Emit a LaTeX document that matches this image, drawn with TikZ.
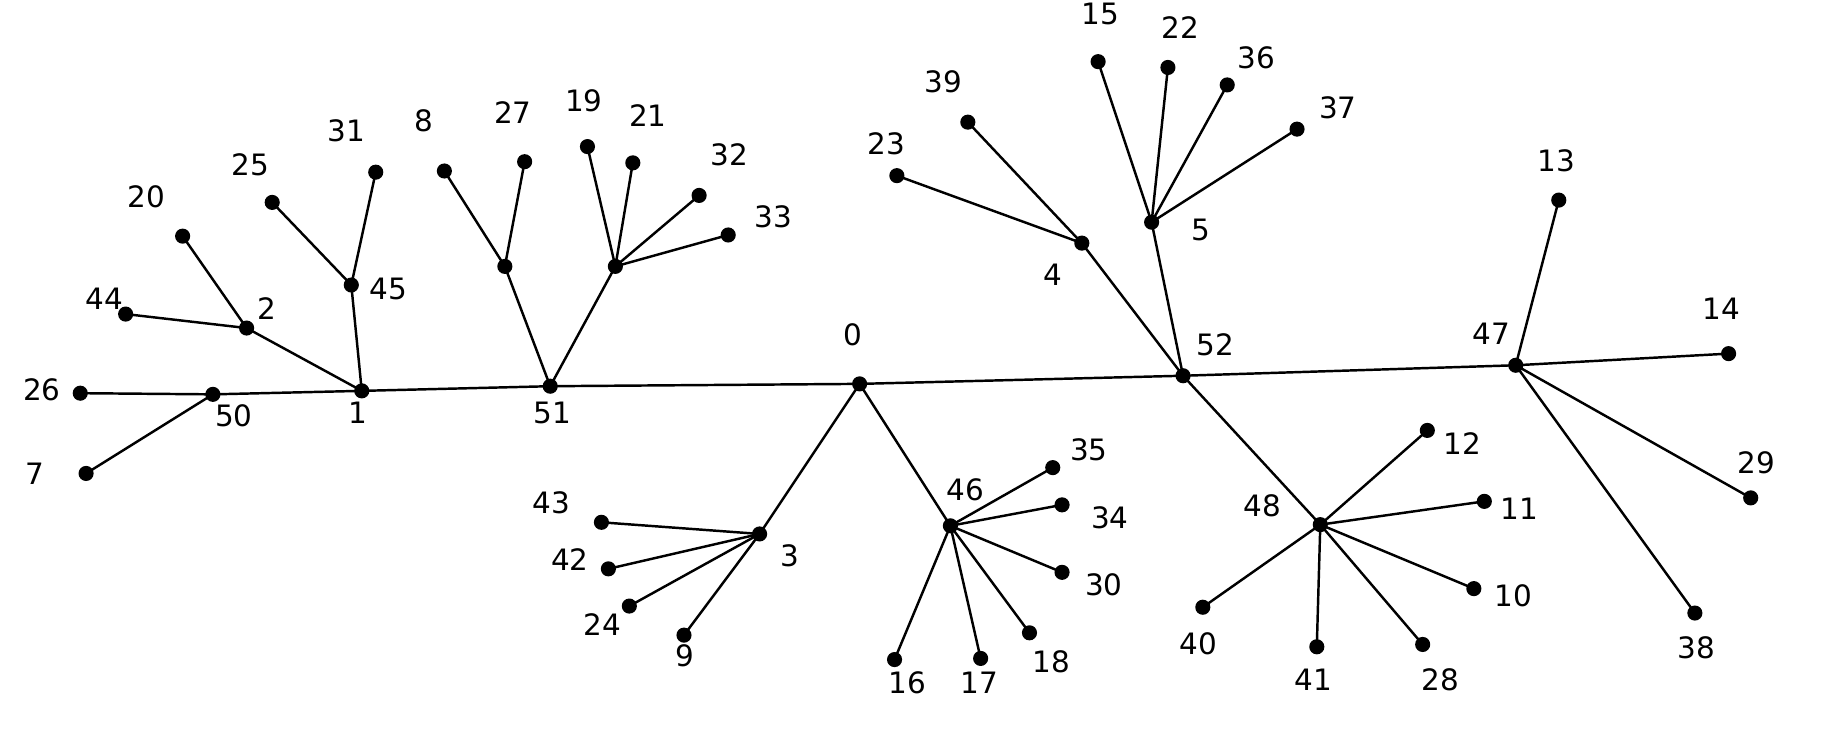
\documentclass[tikz,border=0pt]{standalone}
\usepackage{fontspec}
\setmainfont{DejaVu Sans}
\begin{document}
\begin{tikzpicture}[x=0.01cm,y=-0.01cm,
  dot/.style={circle,fill=black,inner sep=0pt,minimum size=0.13cm},
  lbl/.style={font=\fontsize{7.2}{8}\selectfont,inner sep=0pt},
  edge/.style={line width=0.6pt}]
\useasboundingbox (0,0) rectangle (1568,639);
\foreach \n/\x/\y/\lx/\ly in {
0/739/330/733/288, 1/311/336/308/355, 50/183/339/201/357, 26/69/338/36/335, 7/74/407/30/407,
2/212/282/229/265, 20/157/203/126/169, 44/108/270/90/257, 45/302/245/334/248, 25/234/174/215/142,
31/323/148/298/112, 51/473/332/475/355, 8/382/147/364/104, 27/451/139/441/97,
19/505/126/502/87, 21/544/140/557/99, 32/601/168/627/133, 33/626/202/665/186,
52/1017/323/1045/296, 4/930/209/905/236, 23/771/151/762/124, 39/832/105/811/70,
5/990/191/1032/198, 15/944/53/946/12, 22/1004/58/1015/24, 36/1055/73/1080/50, 37/1115/111/1150/93,
47/1303/314/1282/287, 13/1340/172/1338/138, 14/1486/304/1480/265, 29/1505/428/1510/398, 38/1457/527/1458/557,
48/1135/451/1085/435, 12/1227/370/1257/381, 11/1276/431/1306/437, 10/1267/506/1301/512,
28/1223/554/1238/584, 41/1132/556/1129/584, 40/1034/522/1030/553,
3/653/459/679/478, 43/517/449/474/432, 42/523/489/490/481, 24/541/521/518/537, 9/588/546/589/564,
46/817/452/830/421, 35/905/402/936/387, 34/913/434/954/445, 30/913/492/949/503, 18/885/544/904/569,
17/843/566/842/587, 16/769/567/780/587}{
  \node[dot] (n\n) at (\x,\y) {};
  \node[lbl] (l\n) at (\lx,\ly) {\n};
}
\node[dot] (nX) at (434,229) {};
\node[dot] (nY) at (529,229) {};
\foreach \a/\b in {26/50,50/7,50/1,1/2,2/20,2/44,1/45,45/25,45/31,1/51,51/X,X/8,X/27,51/Y,
  Y/19,Y/21,Y/32,Y/33,51/0,0/3,3/43,3/42,3/24,3/9,0/46,46/35,46/34,46/30,46/18,46/17,46/16,
  0/52,52/4,4/23,4/39,52/5,5/15,5/22,5/36,5/37,52/48,48/12,48/11,48/10,48/28,48/41,48/40,
  52/47,47/13,47/14,47/29,47/38}{
  \draw[edge] (n\a.center) -- (n\b.center);
}
\end{tikzpicture}
\end{document}
